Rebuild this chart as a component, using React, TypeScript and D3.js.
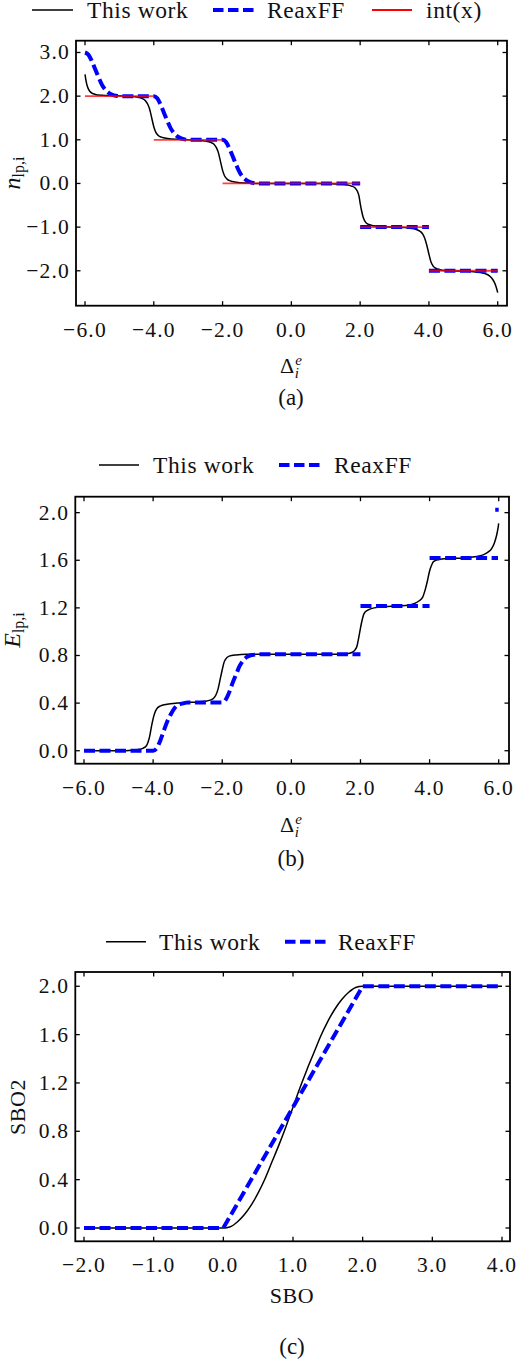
import React from 'react';
import * as d3 from 'd3';

type Pt = [number, number];

// ---------- Panel (a): n_lp,i vs Delta_i^e ----------
const aXTicks = [-6, -4, -2, 0, 2, 4, 6];
const aYTicks = [-2, -1, 0, 1, 2, 3];
const aThisWork: Pt[] = [
  [-6.0, 2.5], [-5.97, 2.35], [-5.93, 2.22], [-5.88, 2.13], [-5.8, 2.07], [-5.7, 2.04], [-5.5, 2.02],
  [-5.2, 2.01], [-4.8, 2.0], [-4.5, 1.98], [-4.35, 1.95], [-4.25, 1.9], [-4.18, 1.82], [-4.12, 1.7],
  [-4.06, 1.5], [-4.0, 1.3], [-3.94, 1.17], [-3.87, 1.1], [-3.78, 1.06], [-3.6, 1.03], [-3.3, 1.01],
  [-3.0, 1.0], [-2.7, 0.99], [-2.5, 0.97], [-2.35, 0.94], [-2.25, 0.9], [-2.18, 0.82], [-2.12, 0.7],
  [-2.06, 0.5], [-2.0, 0.3], [-1.94, 0.17], [-1.87, 0.1], [-1.78, 0.06], [-1.6, 0.03], [-1.3, 0.01],
  [-1.0, 0.0], [0.0, 0.0], [1.0, 0.0], [1.3, -0.01], [1.6, -0.03], [1.75, -0.06], [1.85, -0.1],
  [1.92, -0.18], [1.97, -0.3], [2.0, -0.45], [2.04, -0.62], [2.09, -0.78], [2.15, -0.88], [2.25, -0.94],
  [2.4, -0.97], [2.7, -0.99], [3.0, -1.0], [3.3, -1.01], [3.5, -1.03], [3.65, -1.06], [3.75, -1.1],
  [3.82, -1.16], [3.88, -1.26], [3.94, -1.42], [4.0, -1.62], [4.06, -1.8], [4.13, -1.9], [4.22, -1.95],
  [4.35, -1.98], [4.6, -2.0], [5.0, -2.01], [5.3, -2.02], [5.5, -2.04], [5.65, -2.07], [5.75, -2.11],
  [5.83, -2.17], [5.9, -2.26], [5.95, -2.36], [6.0, -2.5],
];
const aReaxFF: Pt[][] = [
  [
    [-6.0, 3.0], [-5.9, 2.95], [-5.8, 2.8], [-5.7, 2.61], [-5.6, 2.42], [-5.5, 2.25], [-5.4, 2.14],
    [-5.3, 2.07], [-5.2, 2.03], [-5.1, 2.01], [-5.0, 2.0], [-4.0, 2.0],
    [-3.9, 1.95], [-3.8, 1.8], [-3.7, 1.61], [-3.6, 1.42], [-3.5, 1.25], [-3.4, 1.14],
    [-3.3, 1.07], [-3.2, 1.03], [-3.1, 1.01], [-3.0, 1.0], [-2.0, 1.0],
    [-1.9, 0.95], [-1.8, 0.8], [-1.7, 0.61], [-1.6, 0.42], [-1.5, 0.25], [-1.4, 0.14],
    [-1.3, 0.07], [-1.2, 0.03], [-1.1, 0.01], [-1.0, 0.0], [2.0, 0.0],
  ],
  [[2.0, -1.0], [4.0, -1.0]],
  [[4.0, -2.0], [6.0, -2.0]],
];
const aIntStart = [-6, -4, -2, 2, 4];
const aIntEnd = [-4, -2, 2, 4, 6];
const aIntValue = [2, 1, 0, -1, -2];

// ---------- Panel (b): E_lp,i vs Delta_i^e ----------
const bXTicks = [-6, -4, -2, 0, 2, 4, 6];
const bYTicks = [0, 0.4, 0.8, 1.2, 1.6, 2.0];
const bThisWork: Pt[] = [
  [-6.0, 0.0], [-5.0, 0.0], [-4.6, 0.005], [-4.4, 0.012], [-4.3, 0.02], [-4.2, 0.04], [-4.15, 0.07],
  [-4.1, 0.12], [-4.05, 0.2], [-4.0, 0.27], [-3.95, 0.32], [-3.9, 0.35], [-3.8, 0.375], [-3.6, 0.39],
  [-3.3, 0.4], [-3.0, 0.405], [-2.7, 0.41], [-2.5, 0.415], [-2.35, 0.425], [-2.25, 0.44], [-2.18, 0.47],
  [-2.12, 0.52], [-2.06, 0.6], [-2.0, 0.68], [-1.95, 0.74], [-1.9, 0.77], [-1.8, 0.795], [-1.6, 0.805],
  [-1.3, 0.81], [1.3, 0.81], [1.6, 0.815], [1.75, 0.825], [1.85, 0.85], [1.9, 0.88], [1.95, 0.95],
  [2.0, 1.03], [2.05, 1.1], [2.1, 1.15], [2.2, 1.18], [2.4, 1.2], [2.7, 1.21], [3.0, 1.215], [3.3, 1.22],
  [3.55, 1.235], [3.7, 1.26], [3.8, 1.29], [3.88, 1.36], [3.94, 1.43], [4.0, 1.51], [4.06, 1.56],
  [4.12, 1.59], [4.25, 1.605], [4.5, 1.615], [5.0, 1.62], [5.3, 1.63], [5.55, 1.645], [5.7, 1.67],
  [5.8, 1.7], [5.88, 1.75], [5.94, 1.81], [5.98, 1.87], [6.0, 1.91],
];
const bReaxFF: Pt[][] = [
  [
    [-6.0, 0.0], [-4.0, 0.0], [-3.9, 0.02], [-3.8, 0.08], [-3.7, 0.16], [-3.6, 0.24], [-3.5, 0.3],
    [-3.4, 0.35], [-3.3, 0.38], [-3.2, 0.393], [-3.1, 0.4], [-3.0, 0.405], [-2.0, 0.405],
    [-1.9, 0.43], [-1.8, 0.49], [-1.7, 0.57], [-1.6, 0.64], [-1.5, 0.71], [-1.4, 0.755],
    [-1.3, 0.785], [-1.2, 0.8], [-1.1, 0.805], [-1.0, 0.81], [2.0, 0.81],
  ],
  [[2.0, 1.215], [4.0, 1.215]],
  [[4.0, 1.62], [5.98, 1.62]],
  [[5.9, 2.025], [6.0, 2.025]],
];

// ---------- Panel (c): SBO2 vs SBO ----------
const cXTicks = [-2, -1, 0, 1, 2, 3, 4];
const cYTicks = [0, 0.4, 0.8, 1.2, 1.6, 2.0];
const cThisWork: Pt[] = [
  [-2.0, 0.0], [0.0, 0.0], [0.1, 0.01], [0.2, 0.05], [0.3, 0.11], [0.4, 0.19], [0.5, 0.29],
  [0.6, 0.41], [0.7, 0.55], [0.8, 0.69], [0.9, 0.84], [1.0, 1.0], [1.1, 1.16], [1.2, 1.31],
  [1.3, 1.45], [1.4, 1.59], [1.5, 1.71], [1.6, 1.81], [1.7, 1.89], [1.8, 1.95], [1.9, 1.99],
  [2.0, 2.0], [4.0, 2.0],
];
const cReaxFF: Pt[] = [[-2.0, 0.0], [0.0, 0.0], [2.0, 2.0], [4.0, 2.0]];

// ---------- styling ----------
const FONT = "'Liberation Serif', 'Times New Roman', serif";
const BLUE = '#0000ff';
const RED = '#ff0000';
const BLACK = '#000000';
const TEXT = '#111';
const DASH = '11 4.5';
const fmt = d3.format('.1f');

type Frame = { x0: number; x1: number; y0: number; y1: number };

interface PanelProps {
  id: string;
  frame: Frame;
  xDomain: [number, number];
  yDomain: [number, number];
  xTicks: number[];
  yTicks: number[];
  children: (x: d3.ScaleLinear<number, number>, y: d3.ScaleLinear<number, number>) => React.ReactNode;
}

function Panel({ id, frame, xDomain, yDomain, xTicks, yTicks, children }: PanelProps) {
  const x = d3.scaleLinear().domain(xDomain).range([frame.x0, frame.x1]);
  const y = d3.scaleLinear().domain(yDomain).range([frame.y1, frame.y0]);
  const tl = 4.5;
  return (
    <g>
      <defs>
        <clipPath id={`clip-${id}`}>
          <rect x={frame.x0} y={frame.y0} width={frame.x1 - frame.x0} height={frame.y1 - frame.y0} />
        </clipPath>
      </defs>
      <g clipPath={`url(#clip-${id})`}>{children(x, y)}</g>
      {xTicks.map((t) => (
        <g key={`xt${t}`}>
          <line x1={x(t)} x2={x(t)} y1={frame.y1} y2={frame.y1 - tl} stroke={BLACK} strokeWidth={1.3} />
          <line x1={x(t)} x2={x(t)} y1={frame.y0} y2={frame.y0 + tl} stroke={BLACK} strokeWidth={1.3} />
          <text x={x(t)} y={frame.y1 + 31} textAnchor="middle" fontSize={21.5} letterSpacing={1.2} fontFamily={FONT} fill={TEXT}>
            {fmt(t)}
          </text>
        </g>
      ))}
      {yTicks.map((t) => (
        <g key={`yt${t}`}>
          <line x1={frame.x0} x2={frame.x0 + tl} y1={y(t)} y2={y(t)} stroke={BLACK} strokeWidth={1.3} />
          <line x1={frame.x1} x2={frame.x1 - tl} y1={y(t)} y2={y(t)} stroke={BLACK} strokeWidth={1.3} />
          <text x={frame.x0 - 6} y={y(t) + 7} textAnchor="end" fontSize={21.5} letterSpacing={1.2} fontFamily={FONT} fill={TEXT}>
            {fmt(t)}
          </text>
        </g>
      ))}
      <rect x={frame.x0} y={frame.y0} width={frame.x1 - frame.x0} height={frame.y1 - frame.y0}
        fill="none" stroke={BLACK} strokeWidth={1.8} />
    </g>
  );
}

interface LegendItem { label: string; color: string; dashed: boolean; lx0: number; lx1: number; tx: number }

function Legend({ y, items }: { y: number; items: LegendItem[] }) {
  return (
    <g>
      {items.map((it) => (
        <g key={it.label}>
          <line x1={it.lx0} x2={it.lx1} y1={y} y2={y} stroke={it.color}
            strokeWidth={it.dashed ? 4 : it.color === RED ? 1.8 : 1.5}
            strokeDasharray={it.dashed ? '10.5 4.5' : undefined} />
          <text x={it.tx} y={y + 8} fontSize={23.5} letterSpacing={0.6} fontFamily={FONT} fill={TEXT}>{it.label}</text>
        </g>
      ))}
    </g>
  );
}

function DeltaLabel({ x, y }: { x: number; y: number }) {
  return (
    <text x={x} y={y} fontFamily={FONT} fill={TEXT}>
      <tspan fontSize={22}>Δ</tspan>
      <tspan fontSize={15} fontStyle="italic" dx={0.5} dy={5}>i</tspan>
      <tspan fontSize={15} fontStyle="italic" dx={-3.5} dy={-13}>e</tspan>
    </text>
  );
}

export default function App() {
  const smooth = (x: d3.ScaleLinear<number, number>, y: d3.ScaleLinear<number, number>) =>
    d3.line<Pt>().x((d) => x(d[0])).y((d) => y(d[1])).curve(d3.curveMonotoneX);
  const straight = (x: d3.ScaleLinear<number, number>, y: d3.ScaleLinear<number, number>) =>
    d3.line<Pt>().x((d) => x(d[0])).y((d) => y(d[1]));

  const frameA: Frame = { x0: 76, x1: 507, y0: 40.7, y1: 305.7 };
  const frameB: Frame = { x0: 75.3, x1: 509, y0: 496.7, y1: 763.7 };
  const frameC: Frame = { x0: 75.3, x1: 510, y0: 972, y1: 1241.3 };

  return (
    <svg width={520} height={1359} style={{ position: 'absolute', left: 0, top: 0, background: '#fff' }}
      xmlns="http://www.w3.org/2000/svg">
      <rect x={0} y={0} width={520} height={1359} fill="#fff" />

      {/* ---------- (a) ---------- */}
      <Legend y={10} items={[
        { label: 'This work', color: BLACK, dashed: false, lx0: 32, lx1: 73, tx: 87 },
        { label: 'ReaxFF', color: BLUE, dashed: true, lx0: 213, lx1: 254, tx: 267 },
        { label: 'int(x)', color: RED, dashed: false, lx0: 372, lx1: 412, tx: 426 },
      ]} />
      <Panel id="a" frame={frameA} xDomain={[-6.262, 6.27]} yDomain={[-2.8, 3.27]} xTicks={aXTicks} yTicks={aYTicks}>
        {(x, y) => (
          <g>
            <path d={smooth(x, y)(aThisWork) ?? ''} fill="none" stroke={BLACK} strokeWidth={1.5} />
            {aReaxFF.map((seg, i) => (
              <path key={i} d={smooth(x, y)(seg) ?? ''} fill="none" stroke={BLUE} strokeWidth={4} strokeDasharray={DASH} />
            ))}
            {aIntValue.map((v, i) => (
              <line key={i} x1={x(aIntStart[i])} x2={x(aIntEnd[i])} y1={y(v)} y2={y(v)}
                stroke={RED} strokeWidth={1.8} strokeOpacity={0.75} />
            ))}
          </g>
        )}
      </Panel>
      <text transform="translate(20,173) rotate(-90)" textAnchor="middle" fontFamily={FONT} fill={TEXT}>
        <tspan fontSize={24} fontStyle="italic">n</tspan>
        <tspan fontSize={16} dy={4}>lp,i</tspan>
      </text>
      <DeltaLabel x={280} y={372.5} />
      <text x={291} y={405} textAnchor="middle" fontSize={23} fontFamily={FONT} fill={TEXT}>(a)</text>

      {/* ---------- (b) ---------- */}
      <Legend y={465} items={[
        { label: 'This work', color: BLACK, dashed: false, lx0: 99, lx1: 139, tx: 153 },
        { label: 'ReaxFF', color: BLUE, dashed: true, lx0: 279, lx1: 321, tx: 334 },
      ]} />
      <Panel id="b" frame={frameB} xDomain={[-6.252, 6.298]} yDomain={[-0.109, 2.134]} xTicks={bXTicks} yTicks={bYTicks}>
        {(x, y) => (
          <g>
            <path d={smooth(x, y)(bThisWork) ?? ''} fill="none" stroke={BLACK} strokeWidth={1.5} />
            {bReaxFF.map((seg, i) => (
              <path key={i} d={smooth(x, y)(seg) ?? ''} fill="none" stroke={BLUE} strokeWidth={4} strokeDasharray={DASH} />
            ))}
          </g>
        )}
      </Panel>
      <text transform="translate(20,630) rotate(-90)" textAnchor="middle" fontFamily={FONT} fill={TEXT}>
        <tspan fontSize={24} fontStyle="italic">E</tspan>
        <tspan fontSize={16} dy={4}>lp,i</tspan>
      </text>
      <DeltaLabel x={280} y={831.5} />
      <text x={291} y={866} textAnchor="middle" fontSize={23} fontFamily={FONT} fill={TEXT}>(b)</text>

      {/* ---------- (c) ---------- */}
      <Legend y={941.7} items={[
        { label: 'This work', color: BLACK, dashed: false, lx0: 106, lx1: 146, tx: 159 },
        { label: 'ReaxFF', color: BLUE, dashed: true, lx0: 285, lx1: 326, tx: 338 },
      ]} />
      <Panel id="c" frame={frameC} xDomain={[-2.125, 4.115]} yDomain={[-0.11, 2.118]} xTicks={cXTicks} yTicks={cYTicks}>
        {(x, y) => (
          <g>
            <path d={smooth(x, y)(cThisWork) ?? ''} fill="none" stroke={BLACK} strokeWidth={1.5} />
            <path d={straight(x, y)(cReaxFF) ?? ''} fill="none" stroke={BLUE} strokeWidth={4} strokeDasharray={DASH} />
          </g>
        )}
      </Panel>
      <text transform="translate(25,1107) rotate(-90)" textAnchor="middle" fontSize={22} letterSpacing={0.6} fontFamily={FONT} fill={TEXT}>SBO2</text>
      <text x={292} y={1303} textAnchor="middle" fontSize={22} letterSpacing={0.6} fontFamily={FONT} fill={TEXT}>SBO</text>
      <text x={292} y={1354} textAnchor="middle" fontSize={23} fontFamily={FONT} fill={TEXT}>(c)</text>
    </svg>
  );
}
